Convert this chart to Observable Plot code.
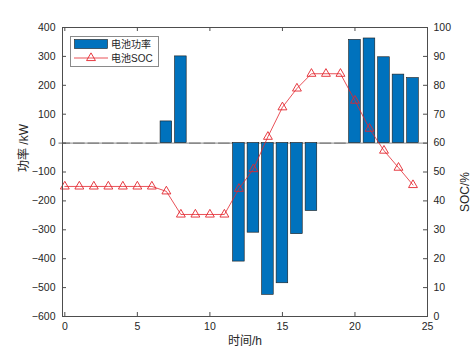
<!DOCTYPE html>
<html><head><meta charset="utf-8">
<script src="https://cdn.jsdelivr.net/npm/d3@7"></script>
<script src="https://cdn.jsdelivr.net/npm/@observablehq/plot@0.6"></script>
<style>
body{margin:0;background:#fff;}
#wrap{position:relative;width:474px;height:355px;}
#legend{position:absolute;left:70px;top:36px;}
</style></head><body><div id="wrap"></div>
<script>
const hours = [0,1,2,3,4,5,6,7,8,9,10,11,12,13,14,15,16,17,18,19,20,21,22,23,24];
const power = [0,0,0,0,0,0,0,75,300,0,0,0,-410,-310,-525,-485,-315,-235,0,0,357,362,297,237,225];
const soc = [45,45,45,45,45,45,45,43.3,35.3,35.3,35.3,35.3,44.2,51,62.2,72.4,78.9,84,84,84,74.7,65,57.4,51.5,45.5];
const xTicks = [0,5,10,15,20,25];
const yTicks = [-600,-500,-400,-300,-200,-100,0,100,200,300,400];
const socTicks = [0,10,20,30,40,50,60,70,80,90,100];
const seriesNames = ["电池功率","电池SOC"];
const xLabel = "时间/h", yLabel = "功率 /kW", y2Label = "SOC/%";

// right axis (SOC 0..100) maps onto left axis (-600..400)
const socToY = s => -600 + s * 10;

const W = 474, H = 355, mL = 62, mR = 47, mT = 27, mB = 39;
const pw = W - mL - mR, ph = H - mT - mB;
const data = hours.map((h, i) => ({h, p: power[i], s: soc[i]}));
const axisColor = "#4d4d4d";
const red = "#e3262e";
const font = "'Liberation Sans', Arial, sans-serif";
const cjk = "'Liberation Sans', 'Noto Sans CJK SC', sans-serif";

const chart = Plot.plot({
  width: W, height: H,
  marginLeft: mL, marginRight: mR, marginTop: mT, marginBottom: mB,
  x: {domain: [-0.16, 25]},
  y: {domain: [-600, 400]},
  style: {fontFamily: font, fontSize: "10px", color: "#262626", background: "#fff"},
  marks: [
    Plot.ruleY([0], {stroke: "#8a8a8a", strokeWidth: 1}),
    Plot.ruleY(data.filter(d => d.p === 0), {y: "p", x1: d => d.h - 0.4, x2: d => d.h + 0.4, stroke: "#6a6a6a", strokeWidth: 1}),
    Plot.rect(data.filter(d => d.p !== 0), {x1: d => d.h - 0.4, x2: d => d.h + 0.4, y1: 0, y2: "p", fill: "#0072BD", stroke: "#1a1a1a", strokeWidth: 0.6}),
    Plot.line(data, {x: "h", y: d => socToY(d.s), stroke: red, strokeWidth: 0.8}),
    Plot.dot(data, {x: "h", y: d => socToY(d.s), symbol: "triangle", r: 3.3, stroke: red, fill: "none", strokeWidth: 0.9}),
    Plot.frame({stroke: axisColor, strokeWidth: 1}),
    Plot.tickY(yTicks, {y: d => d, insetRight: pw - 4, stroke: axisColor}),
    Plot.tickY(yTicks, {y: d => d, insetLeft: pw - 4, stroke: axisColor}),
    Plot.tickX(xTicks, {x: d => d, insetTop: ph - 4, stroke: axisColor}),
    Plot.tickX(xTicks, {x: d => d, insetBottom: ph - 4, stroke: axisColor}),
    Plot.axisX(xTicks, {tickSize: 0, tickPadding: 6, label: null, fontSize: 10.5}),
    Plot.axisY(yTicks, {anchor: "left", tickSize: 0, tickPadding: 7, label: null, fontSize: 10.5}),
    Plot.axisY(socTicks.map(socToY), {anchor: "right", tickSize: 0, tickPadding: 6, label: null, fontSize: 10.5,
      tickFormat: d => socTicks[Math.round((d + 600) / 100)]}),
    Plot.text([xLabel], {frameAnchor: "bottom", dy: 28, fontSize: 12, fontFamily: cjk, fill: "#262626"}),
    Plot.text([yLabel], {frameAnchor: "left", dx: -38, rotate: -90, fontSize: 12, fontFamily: cjk, fill: "#262626"}),
    Plot.text([y2Label], {frameAnchor: "right", dx: 38, rotate: -90, fontSize: 12, fontFamily: font, fill: "#262626"})
  ]
});
const wrap = document.getElementById("wrap");
wrap.appendChild(chart);

// legend overlay
const lg = d3.create("svg").attr("id", "legend").attr("width", 90).attr("height", 32);
lg.append("rect").attr("x", 0.5).attr("y", 0.5).attr("width", 88).attr("height", 30)
  .attr("fill", "#fff").attr("stroke", "#8a8a8a");
lg.append("rect").attr("x", 4.5).attr("y", 3.5).attr("width", 33).attr("height", 9)
  .attr("fill", "#0072BD").attr("stroke", "#1a1a1a").attr("stroke-width", 0.6);
lg.append("line").attr("x1", 4).attr("x2", 38).attr("y1", 22).attr("y2", 22).attr("stroke", red).attr("stroke-width", 0.8);
lg.append("path").attr("d", d3.symbol(d3.symbolTriangle, Math.PI * 3.3 * 3.3)()).attr("transform", "translate(21,22)")
  .attr("fill", "none").attr("stroke", red).attr("stroke-width", 0.9);
seriesNames.forEach((n, i) => {
  lg.append("text").attr("x", 41).attr("y", 8 + i * 14).attr("dy", "0.35em")
    .attr("font-family", cjk).attr("font-size", 10).attr("fill", "#262626").text(n);
});
wrap.appendChild(lg.node());
</script></body></html>
